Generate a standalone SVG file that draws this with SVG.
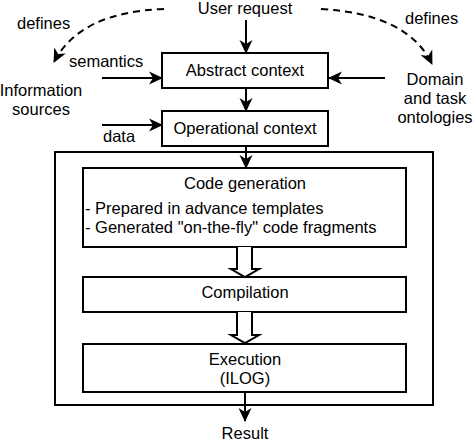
<svg xmlns="http://www.w3.org/2000/svg" width="474" height="441" viewBox="0 0 474 441">
<defs>
<style>
text{font-family:"Liberation Sans",Arial,sans-serif;font-size:16.5px;fill:#000}
.box{fill:#fff;stroke:#000;stroke-width:2}
.ln{fill:none;stroke:#000;stroke-width:2}
.dash{fill:none;stroke:#000;stroke-width:2;stroke-dasharray:7,5}
.c{text-anchor:middle}
</style>
<marker id="ah" markerUnits="userSpaceOnUse" markerWidth="14" markerHeight="14" viewBox="0 0 14 14" refX="13" refY="7" orient="auto">
<path d="M0,0.5 L14,7 L0,13.5 L4,7 z" fill="#000"/>
</marker>
</defs>
<rect width="474" height="441" fill="#fff"/>
<g id="outer"><rect class="box" x="55" y="152" width="378" height="253"/></g>
<g id="user-request"><text class="c" x="245" y="14">User request</text></g>
<g id="abstract"><rect class="box" x="162" y="53" width="166" height="35"/><text class="c" x="245" y="76">Abstract context</text></g>
<g id="operational"><rect class="box" x="162" y="111" width="166" height="35"/><text class="c" x="245" y="134">Operational context</text></g>
<g id="info-sources"><text class="c" x="41" y="96">Information</text><text class="c" x="41" y="115">sources</text></g>
<g id="domain"><text class="c" x="435" y="85">Domain</text><text class="c" x="435" y="104">and task</text><text class="c" x="435" y="123">ontologies</text></g>
<g id="codegen"><rect class="box" x="83" y="168" width="323" height="79"/><text class="c" x="245" y="189">Code generation</text><text x="85" y="214">- Prepared in advance templates</text><text x="85" y="233">- Generated "on-the-fly" code fragments</text></g>
<g id="compilation"><rect class="box" x="83" y="277" width="323" height="35"/><text class="c" x="245" y="298">Compilation</text></g>
<g id="execution"><rect class="box" x="83" y="344" width="323" height="48"/><text class="c" x="245" y="365">Execution</text><text class="c" x="245" y="384">(ILOG)</text></g>
<g id="result"><text class="c" x="245" y="439">Result</text></g>
<g id="connectors">
<line class="ln" x1="246" y1="20" x2="246" y2="53" marker-end="url(#ah)"/>
<line class="ln" x1="246" y1="88" x2="246" y2="111" marker-end="url(#ah)"/>
<line class="ln" x1="246" y1="146" x2="246" y2="168" marker-end="url(#ah)"/>
<line class="ln" x1="245" y1="392" x2="245" y2="421" marker-end="url(#ah)"/>
<line class="ln" x1="102" y1="78" x2="162" y2="78" marker-end="url(#ah)"/>
<line class="ln" x1="102" y1="125" x2="162" y2="125" marker-end="url(#ah)"/>
<line class="ln" x1="385" y1="78" x2="329" y2="78" marker-end="url(#ah)"/>
<path class="dash" d="M164,9 Q80,12 54,62" marker-end="url(#ah)"/>
<path class="dash" d="M321,9 Q408,14 432,64" marker-end="url(#ah)"/>
<path class="box" d="M237,247 L237,269 L231,269 L245,277 L259,269 L252,269 L252,247"/>
<path class="box" d="M237,312 L237,335 L231,335 L245,343 L259,335 L252,335 L252,312"/>
<text x="69" y="67">semantics</text>
<text x="103" y="142">data</text>
<text x="17" y="29">defines</text>
<text x="405" y="24">defines</text>
</g>
</svg>
